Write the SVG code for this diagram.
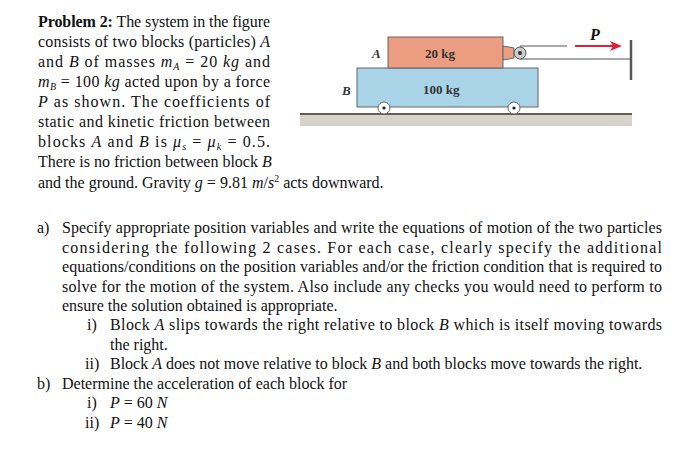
<svg xmlns="http://www.w3.org/2000/svg" width="699" height="470" viewBox="0 0 699 470">
<style>
text{font-family:"Liberation Serif","Times New Roman",serif;font-size:16px;fill:#111}
.i{font-style:italic}
.lbl{font-size:13px;font-weight:bold;fill:#333}
.edge{stroke:#555;stroke-width:1.2}
</style>
<rect width="699" height="470" fill="#fff"/>
<g id="problem-text">
<text x="38" y="27" textLength="232" lengthAdjust="spacing"><tspan font-weight="bold">Problem 2:</tspan> The system in the figure</text>
<text x="38" y="47" textLength="232" lengthAdjust="spacing">consists of two blocks (particles) <tspan class="i">A</tspan></text>
<text x="38" y="67" textLength="232" lengthAdjust="spacing">and <tspan class="i">B</tspan> of masses <tspan class="i">m</tspan><tspan class="i" font-size="10" dy="3">A</tspan><tspan dy="-3"> = 20 </tspan><tspan class="i">kg</tspan> and</text>
<text x="38" y="87" textLength="232" lengthAdjust="spacing"><tspan class="i">m</tspan><tspan class="i" font-size="10" dy="3">B</tspan><tspan dy="-3"> = 100 </tspan><tspan class="i">kg</tspan> acted upon by a force</text>
<text x="38" y="107" textLength="232" lengthAdjust="spacing"><tspan class="i">P</tspan>  as shown. The coefficients of</text>
<text x="38" y="127" textLength="232" lengthAdjust="spacing">static and kinetic friction between</text>
<text x="38" y="147" textLength="232" lengthAdjust="spacing">blocks <tspan class="i">A</tspan> and <tspan class="i">B</tspan> is <tspan class="i">μ</tspan><tspan class="i" font-size="10" dy="3">s</tspan><tspan dy="-3"> = </tspan><tspan class="i">μ</tspan><tspan class="i" font-size="10" dy="3">k</tspan><tspan dy="-3"> = 0.5.</tspan></text>
<text x="38" y="167">There is no friction between block <tspan class="i">B</tspan></text>
<text x="38" y="188">and the ground. Gravity  <tspan class="i">g</tspan> = 9.81 <tspan class="i">m</tspan>/<tspan class="i">s</tspan><tspan font-size="10" dy="-6">2</tspan><tspan dy="6">  acts downward.</tspan></text>
</g>
<g id="figure">
<rect x="300" y="114" width="332" height="12" fill="#d8d2cc"/>
<line x1="300" y1="114" x2="632" y2="114" stroke="#6b5a50" stroke-width="2"/>
<rect id="blockB" x="357" y="68" width="181" height="39" fill="#a9d4e8" stroke="#666" stroke-width="1"/>
<rect id="blockA" x="388" y="37" width="115" height="31" fill="#ec9c80" stroke="#666" stroke-width="1"/>
<path d="M503 46 L514 48 L514 58 L503 60 Z" fill="#e8a080" stroke="#666"/>
<line x1="520" y1="46" x2="567" y2="46" class="edge"/>
<line x1="520" y1="59" x2="631" y2="59" class="edge"/>
<circle cx="520" cy="53" r="6" fill="#ccc" stroke="#555"/>
<circle cx="520" cy="53" r="2" fill="#333"/>
<line x1="631" y1="40" x2="631" y2="80" stroke="#555" stroke-width="2.5"/>
<line x1="575" y1="46" x2="615" y2="46" stroke="#e0203a" stroke-width="2"/>
<path d="M622 46 L610 41 L613 46 L610 51 Z" fill="#e0203a"/>
<text x="590" y="40" class="i" font-weight="bold" fill="#333">P</text>
<circle cx="384" cy="108" r="6" fill="#fff" stroke="#666"/><circle cx="384" cy="108" r="1.6" fill="#222"/>
<circle cx="514" cy="108" r="6" fill="#fff" stroke="#666"/><circle cx="514" cy="108" r="1.6" fill="#222"/>
<text x="425" y="58" class="lbl">20 kg</text>
<text x="423" y="94" class="lbl">100 kg</text>
<text x="372" y="58" class="lbl i">A</text>
<text x="342" y="95" class="lbl i">B</text>
</g>
<g id="questions">
<text x="37" y="233">a)</text>
<text x="62" y="233" textLength="600" lengthAdjust="spacing">Specify appropriate position variables and write the equations of motion of the two particles</text>
<text x="62" y="252.5" textLength="600" lengthAdjust="spacing">considering the following 2 cases. For each case, clearly specify the additional</text>
<text x="62" y="272" textLength="600" lengthAdjust="spacing">equations/conditions on the position variables and/or the friction condition that is required to</text>
<text x="62" y="291.5" textLength="600" lengthAdjust="spacing">solve for the motion of the system. Also include any checks you would need to perform to</text>
<text x="62" y="311">ensure the solution obtained is appropriate.</text>
<text x="87" y="330">i)</text>
<text x="110" y="330" textLength="552" lengthAdjust="spacing">Block <tspan class="i">A</tspan> slips towards the right relative to block <tspan class="i">B</tspan> which is itself moving towards</text>
<text x="110" y="349.5">the right.</text>
<text x="85" y="369">ii)</text>
<text x="110" y="369">Block <tspan class="i">A</tspan>  does not move relative to block <tspan class="i">B</tspan>  and both blocks move towards the right.</text>
<text x="37" y="388.5">b)</text>
<text x="62" y="388.5">Determine the acceleration of each block for</text>
<text x="87" y="408">i)</text>
<text x="110" y="408"><tspan class="i">P</tspan> = 60 <tspan class="i">N</tspan></text>
<text x="85" y="427.5">ii)</text>
<text x="110" y="427.5"><tspan class="i">P</tspan> = 40 <tspan class="i">N</tspan></text>
</g>
</svg>
